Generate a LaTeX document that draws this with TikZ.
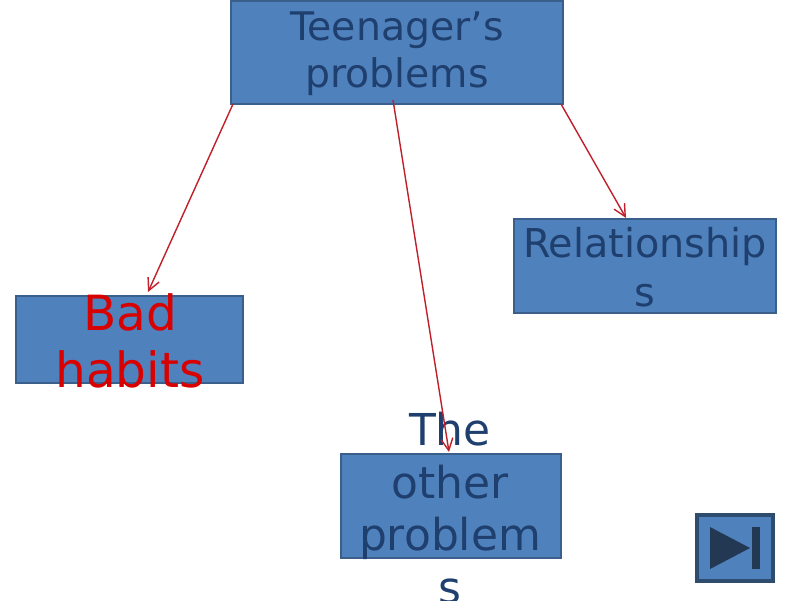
\documentclass[tikz,border=0pt]{standalone}
\usepackage{fontspec}
\setmainfont{DejaVu Sans}
\usetikzlibrary{arrows.meta}
\definecolor{boxfill}{HTML}{4F81BD}
\definecolor{boxline}{HTML}{3A5F8A}
\definecolor{boxtext}{HTML}{1F3F6E}
\definecolor{arrowred}{HTML}{C0202A}
\tikzset{
  topic/.style={draw=boxline, fill=boxfill, line width=0.8pt, inner sep=0pt},
  label/.style={text=boxtext, align=center, font=\fontsize{11.2}{13.4}\selectfont},
  link/.style={draw=arrowred, line width=0.4pt, -{Straight Barb[length=1.2mm,width=1.2mm]}}
}
\begin{document}
\begin{tikzpicture}[x=0.01cm, y=-0.01cm]
\useasboundingbox (0,0) rectangle (800,600);

\draw[topic] (231,1) rectangle (563,104);
\node[label] (top) at (397,54) {Teenager’s\\problems};

\draw[topic] (16,296) rectangle (243,383);
\node[label, text=red!85!black, font=\fontsize{13.8}{16.2}\selectfont] (bad) at (130,341) {Bad\\habits};

\draw[topic] (514,219) rectangle (776,313);
\node[label, font=\fontsize{11.3}{14}\selectfont] (rel) at (645,267) {Relationship\\s};

\draw[topic] (341,454) rectangle (561,558);
\node[label, font=\fontsize{12.5}{15}\selectfont] (oth) at (450,508) {The\\other\\problem\\s};

\coordinate (a1) at (233,104);
\coordinate (b1) at (148,292);
\coordinate (a2) at (393,100);
\coordinate (b2) at (449,452);
\coordinate (a3) at (561,104);
\coordinate (b3) at (626,218);
\draw[link] (a1) -- (b1);
\draw[link] (a2) -- (b2);
\draw[link] (a3) -- (b3);

% end button
\draw[topic, line width=1.2pt, draw=boxline!80!black] (697,515) rectangle (773,581);
\fill[boxline!60!black] (710,527) -- (750,548) -- (710,569) -- cycle;
\fill[boxline!60!black] (752,527) rectangle (760,569);
\end{tikzpicture}
\end{document}
